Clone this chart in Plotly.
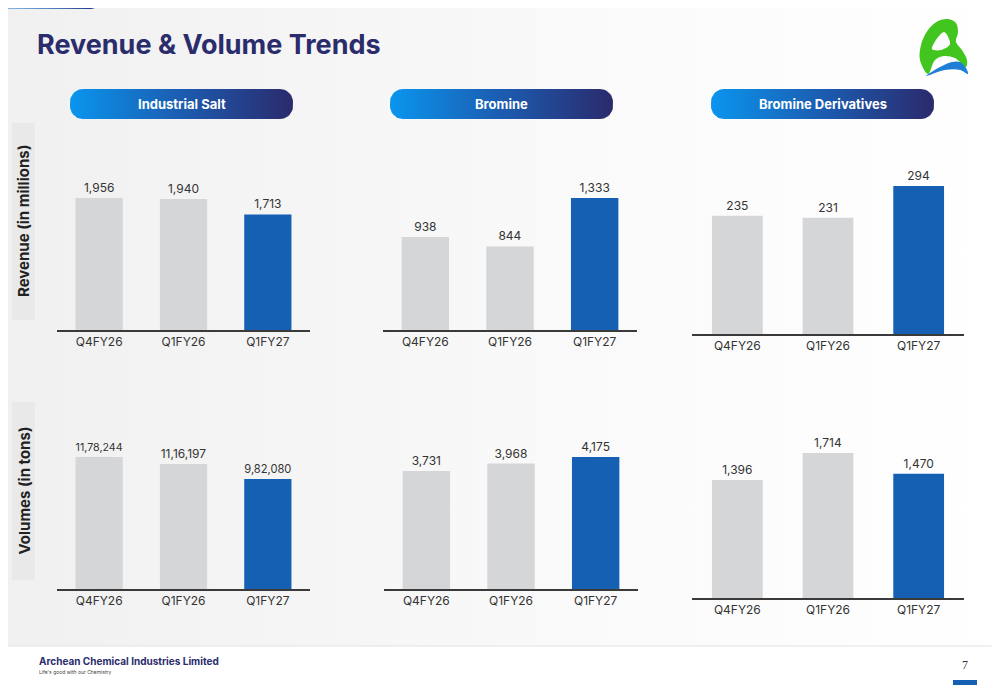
import numpy as np
import plotly.graph_objects as go

# chart data
quarters = ["Q4FY26", "Q1FY26", "Q1FY27"]
segments = ["Industrial Salt", "Bromine", "Bromine Derivatives"]
revenue_salt = [1956, 1940, 1713]
revenue_bromine = [938, 844, 1333]
revenue_derivatives = [235, 231, 294]
volume_salt = [1178244, 1116197, 982080]
volume_bromine = [3731, 3968, 4175]
volume_derivatives = [1396, 1714, 1470]

W, H = 1000, 685
OFF = 8  # page body margin, figure starts at (8, 8)
FW, FH = W - OFF, H - OFF
GREY = "#d5d6d8"
BLUE = "#1660b3"
NAVY = "#2a2c6c"
FONT = "Inter"


def indian(n):
    # 1178244 -> 11,78,244
    s = str(n)
    if len(s) <= 3:
        return s
    head, tail = s[:-3], s[-3:]
    parts = []
    while len(head) > 2:
        parts.insert(0, head[-2:])
        head = head[:-2]
    if head:
        parts.insert(0, head)
    return ",".join(parts + [tail])


def pill(x0, x1, y0, y1, r):
    xs, ys = [], []
    corners = [(x1 - r, y0 + r, -90, 0), (x1 - r, y1 - r, 0, 90),
               (x0 + r, y1 - r, 90, 180), (x0 + r, y0 + r, 180, 270)]
    for cx, cy, a0, a1 in corners:
        t = np.radians(np.linspace(a0, a1, 10))
        xs += list(cx + r * np.cos(t))
        ys += list(cy + r * np.sin(t))
    return xs + [xs[0]], ys + [ys[0]]


fig = go.Figure()

# decoration layer on page-pixel axes (first subplot, so it sits under the charts)
fig.add_trace(go.Scatter(
    x=[0, W, W, 0, 0], y=[0, 0, H, H, 0], mode="lines", line=dict(width=0),
    fill="toself", fillgradient=dict(type="horizontal", colorscale=[[0, "#f0f0f0"], [0.6, "#fafafa"], [1, "#ffffff"]]),
    hoverinfo="skip", showlegend=False))
fig.add_trace(go.Scatter(
    x=[0, W, W, 0, 0], y=[646, 646, H, H, 646], mode="lines", line=dict(width=0),
    fill="toself", fillcolor="white", hoverinfo="skip", showlegend=False))

gx, gy = pill(-30, 100, -20, 9, 9)
fig.add_trace(go.Scatter(
    x=gx, y=gy, mode="lines", line=dict(width=0), fill="toself",
    fillgradient=dict(type="horizontal", colorscale=[[0, "#0d93ec"], [1, "#2a3a8c"]]),
    hoverinfo="skip", showlegend=False))

pill_x = [(70, 293), (390, 613), (711, 934)]
for (px0, px1), name in zip(pill_x, segments):
    xs, ys = pill(px0, px1, 89, 119, 13)
    fig.add_trace(go.Scatter(
        x=xs, y=ys, mode="lines", line=dict(width=0), fill="toself",
        fillgradient=dict(type="horizontal", colorscale=[[0, "#0a95ee"], [0.5, "#1c5cb0"], [1, "#2b2a6c"]]),
        hoverinfo="skip", showlegend=False))
    fig.add_annotation(x=(px0 + px1) / 2, y=104, xref="x", yref="y", text="<b>" + name + "</b>",
                       showarrow=False, font=dict(family=FONT, size=13, color="white"))

# logo (rough): solid green hook with a small hole, blue swoosh underneath
fig.add_trace(go.Scatter(
    x=[928, 920, 921, 928, 938, 948, 956, 958, 956, 962, 967, 966, 955, 944, 935, 928],
    y=[74, 60, 45, 30, 21, 19, 23, 32, 42, 50, 60, 67, 58, 56, 60, 74],
    mode="lines", line=dict(width=0, shape="spline"), fill="toself", fillcolor="#43c520",
    hoverinfo="skip", showlegend=False))
fig.add_trace(go.Scatter(
    x=[932, 944, 950, 941, 932], y=[49, 32, 44, 50, 49],
    mode="lines", line=dict(width=0, shape="spline"), fill="toself", fillcolor="#fbfbfb",
    hoverinfo="skip", showlegend=False))
fig.add_trace(go.Scatter(
    x=[926, 940, 952, 960, 966, 968, 960, 945, 926], y=[76, 67, 62, 62, 68, 74, 70, 70, 76],
    mode="lines", line=dict(width=0, shape="spline"), fill="toself", fillcolor="#1f7fd6",
    hoverinfo="skip", showlegend=False))

layout = dict(
    xaxis=dict(domain=[0, 1], range=[OFF, W], visible=False, fixedrange=True),
    yaxis=dict(domain=[0, 1], range=[H, OFF], visible=False, fixedrange=True),
)

# bar panels: values, left px, right px, baseline px, top of tallest bar px (page pixels)
panels = [
    (revenue_salt, 57, 310, 330, 198),
    (revenue_bromine, 383, 637, 330, 198),
    (revenue_derivatives, 692, 964, 334, 186),
    (volume_salt, 57, 310, 589, 457),
    (volume_bromine, 384, 638, 589, 457),
    (volume_derivatives, 692, 964, 598, 453),
]
span = 160
for i, (vals, x0, x1, base, top) in enumerate(panels, start=2):
    fig.add_trace(go.Bar(
        x=quarters, y=vals, xaxis="x%d" % i, yaxis="y%d" % i,
        marker=dict(color=[GREY, GREY, BLUE], line=dict(width=0)),
        text=[indian(v) for v in vals], textposition="outside", cliponaxis=False,
        textfont=dict(family=FONT, size=12, color="#333333"),
        width=0.56, hoverinfo="skip", showlegend=False))
    layout["xaxis%d" % i] = dict(
        domain=[(x0 - OFF) / FW, (x1 - OFF) / FW], anchor="y%d" % i, showline=True,
        linecolor="#3a3a3a", linewidth=1.5, showgrid=False, ticks="",
        tickfont=dict(family=FONT, size=12, color="#333333"), fixedrange=True)
    layout["yaxis%d" % i] = dict(
        domain=[1 - (base - OFF) / FH, 1 - (base - span - OFF) / FH], anchor="x%d" % i,
        range=[0, max(vals) * span / (base - top)], visible=False, fixedrange=True)

fig.update_layout(**layout)

# y axis labels with pale panels behind them
for label, y0, y1 in [("Revenue (in millions)", 123, 320), ("Volumes (in tons)", 402, 580)]:
    fig.add_shape(type="rect", xref="x", yref="y", x0=12, x1=35, y0=y0, y1=y1,
                  fillcolor="#e9e9e9", line=dict(width=0), layer="above")
    fig.add_annotation(x=23.5, y=(y0 + y1) / 2, xref="x", yref="y", text="<b>" + label + "</b>",
                       textangle=-90, showarrow=False, font=dict(family=FONT, size=15, color="#222222"))

fig.add_annotation(x=35, y=44, xref="x", yref="y", xanchor="left", text="<b>Revenue &amp; Volume Trends</b>",
                   showarrow=False, font=dict(family=FONT, size=27, color=NAVY))

# footer
fig.add_shape(type="line", xref="x", yref="y", x0=0, x1=W, y0=646, y1=646, line=dict(color="#e2e2e2", width=1))
fig.add_annotation(x=37, y=661, xref="x", yref="y", xanchor="left", text="<b>Archean Chemical Industries Limited</b>",
                   showarrow=False, font=dict(family=FONT, size=10, color=NAVY))
fig.add_annotation(x=37, y=672, xref="x", yref="y", xanchor="left", text="Life's good with our Chemistry",
                   showarrow=False, font=dict(family=FONT, size=5, color="#444444"))
fig.add_annotation(x=965, y=665, xref="x", yref="y", text="7",
                   showarrow=False, font=dict(family="Liberation Serif", size=12, color="#333333"))
fig.add_shape(type="rect", xref="x", yref="y", x0=953, x1=977, y0=680, y1=685,
              fillcolor="#1660b3", line=dict(width=0))

fig.update_layout(
    width=FW, height=FH, margin=dict(l=0, r=0, t=0, b=0),
    paper_bgcolor="white", plot_bgcolor="rgba(0,0,0,0)", bargap=0.44,
)

fig.write_html("out.html")
